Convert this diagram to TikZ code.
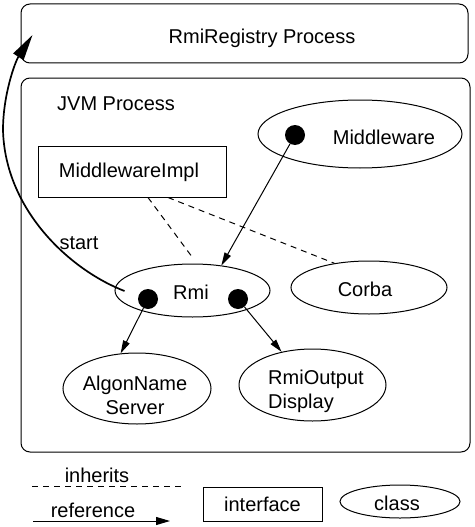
\documentclass[tikz,border=0pt]{standalone}
\usepackage{fontspec}
\setmainfont{Liberation Sans}
\usetikzlibrary{shapes.geometric,arrows.meta,calc}
\begin{document}
\begin{tikzpicture}[x=1pt,y=-1pt,
  every node/.style={font=\fontsize{20}{24}\selectfont},
  cls/.style={draw,ellipse,inner sep=0pt,line width=1pt},
  iface/.style={draw,rectangle,inner sep=0pt,line width=1pt},
  procbox/.style={draw,rectangle,rounded corners=9pt,inner sep=0pt,line width=1pt},
  dot/.style={circle,fill=black,inner sep=0pt,minimum size=20pt},
  refline/.style={line width=1pt,-{Triangle[length=13pt,width=7pt]}},
  inh/.style={dash pattern=on 6pt off 5pt,line width=1pt},
  startline/.style={line width=1.7pt,-{Triangle[length=26pt,width=12pt]}},
  lbl/.style={inner sep=0pt}
]
\useasboundingbox (0,0) rectangle (474,527);

% process boxes
\node[procbox,minimum width=447pt,minimum height=59pt] (reg) at (244.5,33.5) {};
\node[lbl] (regtxt) at (262,38) {RmiRegistry Process};
\node[procbox,minimum width=449pt,minimum height=374pt] (jvm) at (245.5,265) {};
\node[lbl,anchor=west] (jvmtxt) at (57,104) {JVM Process};

% classes and interfaces
\node[cls,minimum width=204pt,minimum height=68pt] (mw) at (360,134) {};
\node[lbl] (mwtxt) at (384,137) {Middleware};
\node[iface,minimum width=188pt,minimum height=51pt] (impl) at (132,171.5) {};
\node[lbl] (impltxt) at (129,172) {MiddlewareImpl};
\node[cls,minimum width=155pt,minimum height=53pt] (rmi) at (192.5,290.5) {};
\node[lbl] (rmitxt) at (191,292) {Rmi};
\node[cls,minimum width=156pt,minimum height=53pt] (corba) at (369,287.5) {};
\node[lbl] (corbatxt) at (365,289) {Corba};
\node[cls,minimum width=148pt,minimum height=71pt] (algon) at (137,388.5) {};
\node[lbl,align=center] (algontxt) at (135,395) {AlgonName\\Server};
\node[cls,minimum width=147pt,minimum height=72pt] (rout) at (312.5,385) {};
\node[lbl,align=left] (routtxt) at (316,391) {RmiOutput\\Display};

% dots
\node[dot] (mwdot) at (295,135) {};
\node[dot] (rdot1) at (148,299) {};
\node[dot] (rdot2) at (238,299) {};

% references
\draw[refline] (mwdot) -- (rmi.41);
\draw[refline] (rdot1) -- (algon.115);
\draw[refline] (rdot2) -- (rout.133);

% inherits
\draw[inh] ([xshift=16pt]impl.south) -- ([yshift=6pt]rmi.north);
\draw[inh] ([xshift=36pt]impl.south) -- (corba.145);

% start
\coordinate (regtip) at ([xshift=12pt,yshift=-1.5pt]reg.west);
\draw[startline] ([xshift=10pt,yshift=-0.5pt]rmi.west) .. controls (70,270) and (5,210) .. (3,130) .. controls (3,95) and (15,62) .. (regtip);
\node[lbl] (starttxt) at (79,243) {start};

% legend
\node[lbl] (inhtxt) at (97,475) {inherits};
\coordinate (inhA) at (32,486);
\coordinate (inhB) at (183,486);
\draw[inh] (inhA) -- (inhB);
\node[lbl] (reftxt) at (93,510) {reference};
\coordinate (refA) at (33,521);
\coordinate (refB) at (170,521);
\draw[refline,-{Triangle[length=14pt,width=8pt]}] (refA) -- (refB);
\node[iface,minimum width=119pt,minimum height=34pt] (legi) at (262.5,504) {interface};
\node[cls,minimum width=120pt,minimum height=33pt] (legc) at (400,501.5) {};
\node[lbl] (legctxt) at (397,503) {class};
\end{tikzpicture}
\end{document}
